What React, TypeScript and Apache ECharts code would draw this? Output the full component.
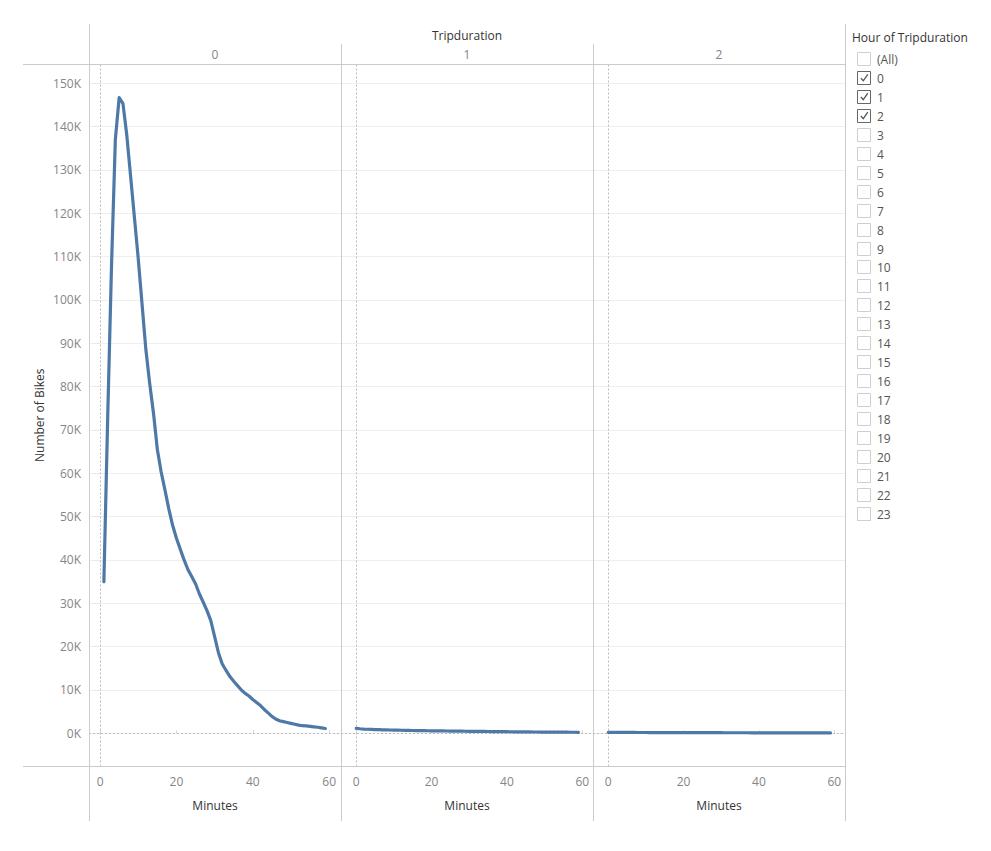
import { useEffect, useRef } from "react";
import * as echarts from "echarts";

// ---- data ----
const panelHours = ["0", "1", "2"];
const panelStartMinute = [1, 0, 0];

// Number of bikes per trip minute, hour-of-tripduration 0 (minutes 1..59)
const bikesHour0 = [
  35000, 73000, 108000, 137000, 146700, 145300, 138000, 128500, 119000, 109500,
  99000, 88500, 80700, 73800, 65500, 60300, 56100, 51800, 48000, 45000,
  42500, 40000, 37800, 36200, 34500, 32200, 30300, 28300, 26000, 22300,
  18600, 16000, 14500, 13100, 12000, 11000, 10000, 9200, 8600, 7800,
  7100, 6400, 5500, 4700, 3900, 3300, 2900, 2700, 2500, 2300,
  2100, 1900, 1750, 1700, 1600, 1500, 1400, 1250, 1100,
];
// hour 1 (minutes 0..59)
const bikesHour1 = [
  1150, 1050, 980, 930, 890, 860, 830, 800, 780, 760,
  740, 720, 700, 680, 665, 650, 635, 620, 605, 590,
  575, 560, 550, 540, 525, 515, 505, 495, 485, 475,
  465, 455, 445, 435, 425, 415, 405, 395, 385, 375,
  365, 355, 345, 335, 330, 320, 315, 305, 300, 290,
  285, 280, 270, 265, 260, 255, 250, 245, 240, 235,
];
// hour 2 (minutes 0..59)
const bikesHour2 = [
  230, 220, 215, 210, 205, 200, 195, 190, 188, 185,
  180, 178, 175, 172, 170, 168, 165, 162, 160, 158,
  155, 152, 150, 148, 146, 144, 142, 140, 138, 136,
  134, 132, 130, 128, 126, 125, 124, 122, 120, 118,
  117, 116, 114, 113, 112, 110, 109, 108, 107, 106,
  105, 104, 103, 102, 101, 100, 99, 98, 97, 96,
];
const panelBikes = [bikesHour0, bikesHour1, bikesHour2];

const yTicks = [0, 10000, 20000, 30000, 40000, 50000, 60000, 70000, 80000, 90000, 100000, 110000, 120000, 130000, 140000, 150000];
const xTicks = [0, 20, 40, 60];

const filterOptions = ["(All)", "0", "1", "2", "3", "4", "5", "6", "7", "8", "9", "10", "11", "12", "13", "14", "15", "16", "17", "18", "19", "20", "21", "22", "23"];
const selectedHours = ["0", "1", "2"];

const FONT = "'Open Sans', 'Noto Sans', sans-serif";

export default function App() {
  const ref = useRef<HTMLDivElement>(null);

  useEffect(() => {
    if (!ref.current) return;
    const chart = echarts.init(ref.current, undefined, { renderer: "svg" });

    const panelLeft = 89;
    const panelW = 252;
    const top = 64;
    const height = 702.5;
    const yMin = -7662;
    const yMax = 154454;
    const xMin = [-2.9, -4.05, -4.05];
    const xMax = [63.1, 62.85, 62.85];
    const frame = "#cbcbcb";
    const tickColor = "#858585";

    const grids = panelHours.map((_, i) => ({
      left: panelLeft + i * panelW,
      top,
      width: panelW,
      height,
      containLabel: false,
    }));

    const xAxes = panelHours.map((_, i) => ({
      type: "value",
      gridIndex: i,
      min: xMin[i],
      max: xMax[i],
      name: "Minutes",
      nameLocation: "middle",
      nameGap: 33,
      nameTextStyle: { color: "#333", fontSize: 12, fontFamily: FONT },
      axisLine: { show: false },
      axisTick: { show: true, inside: true, length: 3, customValues: xTicks, lineStyle: { color: "#d6d6d6" } },
      axisLabel: { customValues: xTicks, color: tickColor, fontSize: 12, fontFamily: FONT, margin: 9 },
      splitLine: { show: false },
    }));

    const yAxes = panelHours.map((_, i) => ({
      type: "value",
      gridIndex: i,
      min: yMin,
      max: yMax,
      name: i === 0 ? "Number of Bikes" : "",
      nameLocation: "middle",
      nameGap: 44,
      nameRotate: 90,
      nameTextStyle: { color: "#333", fontSize: 12, fontFamily: FONT },
      axisLine: { show: false },
      axisTick: { show: i === 0, length: 7, customValues: yTicks, lineStyle: { color: "#e8e8e8" } },
      axisLabel: {
        show: i === 0,
        customValues: yTicks,
        color: tickColor,
        fontSize: 12,
        fontFamily: FONT,
        margin: 8,
        formatter: (v: number) => `${Math.round(v / 1000)}K`,
      },
      splitLine: { show: true, lineStyle: { color: "#efefef", width: 1 } },
    }));

    const series = panelHours.map((_, i) => ({
      type: "line",
      xAxisIndex: i,
      yAxisIndex: i,
      showSymbol: false,
      symbol: "none",
      clip: true,
      z: 3,
      lineStyle: { color: "#4e79a7", width: 3.2, cap: "round", join: "round" },
      data: panelBikes[i].map((v, k) => [panelStartMinute[i] + k, v]),
      markLine: {
        silent: true,
        z: 1,
        symbol: ["none", "none"],
        label: { show: false },
        lineStyle: { color: "#bdbdbd", type: [2, 2], width: 1 },
        emphasis: { disabled: true },
        data: [{ yAxis: 0 }, { xAxis: 0 }],
      },
    }));

    const graphics: any[] = [];
    const line = (x1: number, y1: number, x2: number, y2: number) =>
      graphics.push({ type: "line", silent: true, z: 10, shape: { x1, y1, x2, y2 }, style: { stroke: frame, lineWidth: 1 } });

    // frame lines
    line(23, 64.5, 845, 64.5);
    line(23, 766.5, 845, 766.5);
    line(89.5, 24, 89.5, 821);
    line(341.5, 44, 341.5, 821);
    line(593.5, 44, 593.5, 821);
    line(845.5, 24, 845.5, 821);

    // column header
    graphics.push({
      type: "text",
      silent: true,
      style: { text: "Tripduration", x: 467, y: 35, align: "center", verticalAlign: "middle", fill: "#333", font: `12px ${FONT}` },
    });
    panelHours.forEach((h, i) => {
      graphics.push({
        type: "text",
        silent: true,
        style: { text: h, x: panelLeft + i * panelW + panelW / 2, y: 54.5, align: "center", verticalAlign: "middle", fill: "#858585", font: `12px ${FONT}` },
      });
    });

    // filter card
    graphics.push({
      type: "text",
      silent: true,
      style: { text: "Hour of Tripduration", x: 852, y: 37, align: "left", verticalAlign: "middle", fill: "#333", font: `12px ${FONT}` },
    });
    const rowStart = 58.8;
    const rowStep = 18.97;
    filterOptions.forEach((opt, k) => {
      const cy = rowStart + k * rowStep;
      const checked = selectedHours.includes(opt);
      graphics.push({
        type: "rect",
        silent: true,
        shape: { x: 857.5, y: Math.round(cy - 7) + 0.5, width: 13, height: 13 },
        style: { fill: "#fff", stroke: checked ? "#666" : "#cfcfcf", lineWidth: 1 },
      });
      if (checked) {
        graphics.push({
          type: "polyline",
          silent: true,
          shape: { points: [[860.8, cy + 0.3], [863.3, cy + 3], [867.8, cy - 3.5]] },
          style: { stroke: "#555", lineWidth: 1.3, fill: null },
        });
      }
      graphics.push({
        type: "text",
        silent: true,
        style: { text: opt, x: 877, y: cy + 0.5, align: "left", verticalAlign: "middle", fill: "#555", font: `12px ${FONT}` },
      });
    });

    chart.setOption({
      animation: false,
      backgroundColor: "#fff",
      grid: grids,
      xAxis: xAxes,
      yAxis: yAxes,
      series,
      graphic: graphics,
    });

    return () => chart.dispose();
  }, []);

  return (
    <div
      ref={ref}
      style={{ position: "fixed", left: 0, top: 0, width: 991, height: 851, background: "#fff" }}
    />
  );
}
